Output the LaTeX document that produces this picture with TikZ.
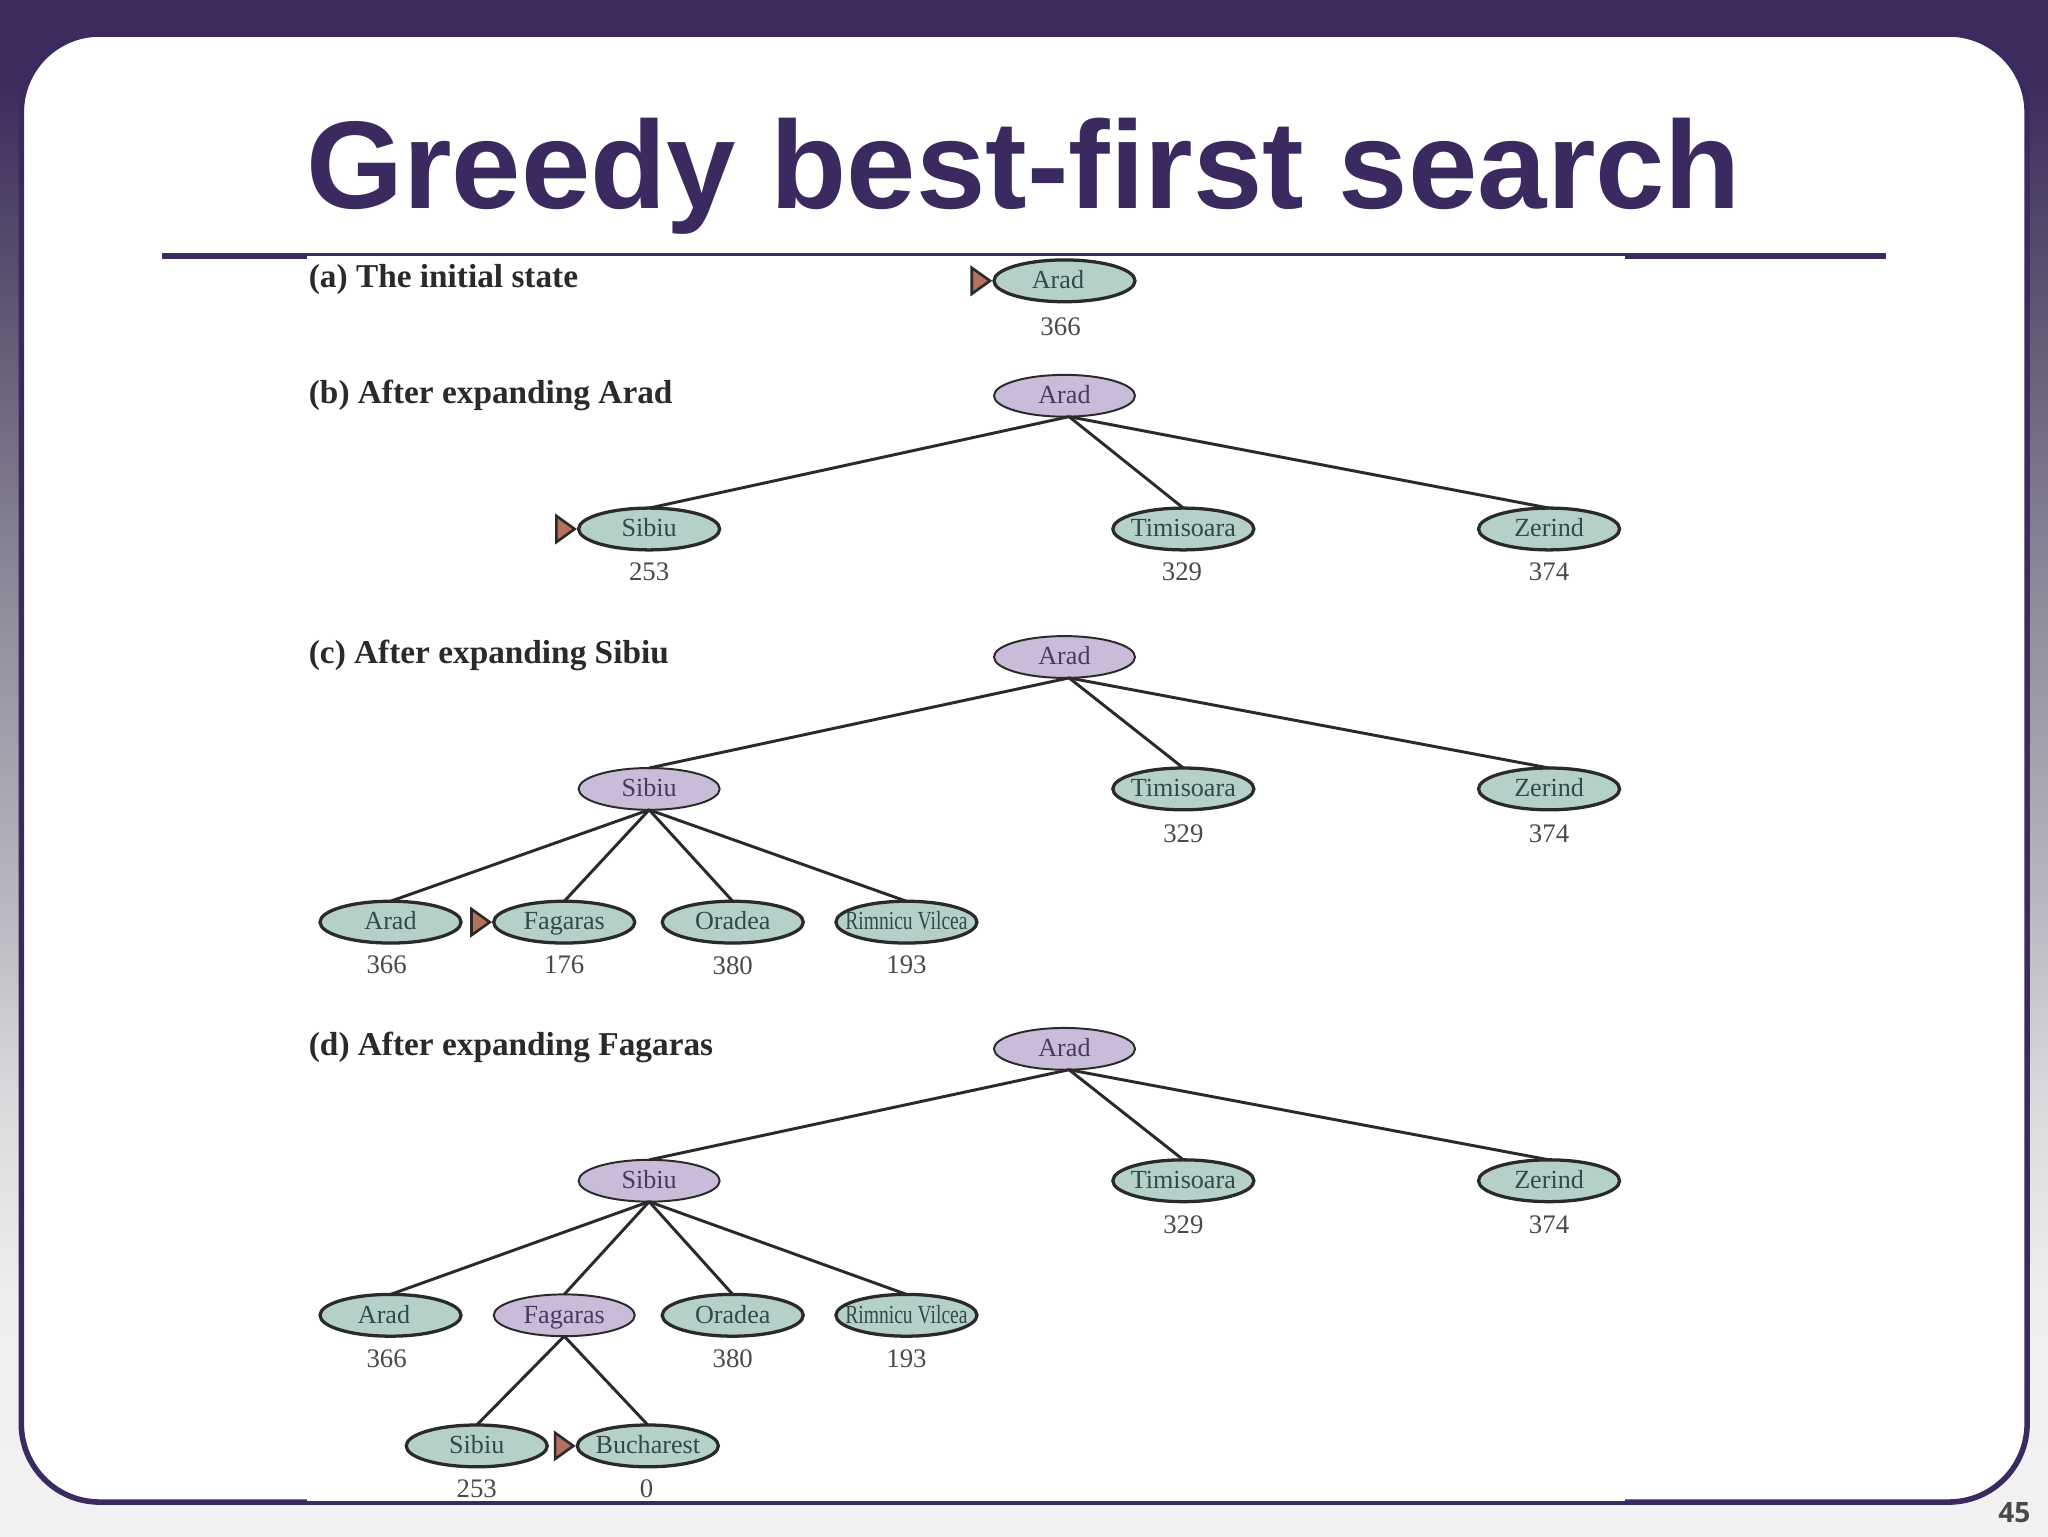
\documentclass[tikz,border=0pt]{standalone}
\usepackage{fontspec}
\usepackage{graphicx}
\usetikzlibrary{shapes.geometric}
\setmainfont{Liberation Serif}
\newfontfamily\titlefont{Liberation Sans}
\newfontfamily\numfont{Open Sans}
\definecolor{deep}{HTML}{3A2A60}
\definecolor{bgA}{HTML}{3C2C5E}
\definecolor{bgB}{HTML}{5E5470}
\definecolor{bgC}{HTML}{8F8B9B}
\definecolor{bgD}{HTML}{B9B6BF}
\definecolor{bgE}{HTML}{DADADD}
\definecolor{bgF}{HTML}{EEEDF0}
\definecolor{bgG}{HTML}{F2F2F3}
\definecolor{leafc}{HTML}{B5D0C8}
\definecolor{donec}{HTML}{C8BCD8}
\definecolor{ink}{HTML}{2A2A2A}
\definecolor{leaftext}{HTML}{34484A}
\definecolor{donetext}{HTML}{463A62}
\definecolor{markc}{HTML}{B5705F}
\pgfdeclareverticalshading{bgshade}{100bp}{
  color(0bp)=(bgG); color(25bp)=(bgG); color(32.7bp)=(bgF); color(39.2bp)=(bgE); color(45.7bp)=(bgD);
  color(55.5bp)=(bgC); color(65.2bp)=(bgB); color(72.4bp)=(bgA); color(75bp)=(bgA); color(100bp)=(bgA)}
\newcommand{\Tx}[2][0pt]{\makebox[0pt]{\hspace*{#1}#2}}
\tikzset{
  x=0.4pt,y=-0.4pt,
  ell/.style={ellipse,minimum width=43.2pt,minimum height=12.8pt,inner sep=0pt,outer sep=0pt,text height=5.4pt,text depth=0.6pt,font=\fontsize{8}{9}\selectfont},
  leafnode/.style={ell,draw=ink,line width=1pt,fill=leafc,text=leaftext},
  donenode/.style={ell,draw=ink,line width=0.6pt,fill=donec,text=donetext},
  valtext/.style={inner sep=0pt,font=\fontsize{8.2}{9}\selectfont,text=ink!85},
  captext/.style={anchor=base west,inner sep=0pt,font=\bfseries\fontsize{10.2}{12}\selectfont,text=ink},
  link/.style={draw=ink,line width=0.9pt},
  tri/.style={fill=markc,draw=ink,line width=0.8pt,line join=miter},
}
\newcommand{\Mark}[1]{\draw[tri] ([shift={(-17,-10)}]#1.west) -- ([shift={(-17,10)}]#1.west) -- ([shift={(-3,0)}]#1.west) -- cycle;}
\begin{document}
\begin{tikzpicture}
\useasboundingbox (0,0) rectangle (1568,1176);
\fill[shading=bgshade] (0,0) rectangle (1568,1176);
\draw[deep,line width=1.7pt,fill=white,rounded corners=24pt] (16.3,26) rectangle (1552,1150);
\fill[deep] (124,194) rectangle (1444,198.5);
\fill[white] (235,196) rectangle (1244,1149.2);
\node[anchor=base west,inner sep=0pt,text=deep,font=\titlefont\bfseries\fontsize{38.2}{40}\selectfont] (title) at (234,160) {Greedy best-first search};
\node[anchor=base east,inner sep=0pt,text=ink!85,font=\numfont\bfseries\fontsize{8.6}{10}\selectfont] (page) at (1555,1166) {45};
% captions
\node[captext] (capa) at (236,220) {(a) The initial state};
\node[captext] (capb) at (236,309) {(b) After expanding Arad};
\node[captext] (capc) at (236,508) {(c) After expanding Sibiu};
\node[captext] (capd) at (236,808) {(d) After expanding Fagaras};
% (a)
\node[leafnode] (a0) at (815,215) {\Tx[-4pt]{Arad}};
\node[valtext] (a0v) at (812,250) {366};
\Mark{a0}
% (b)
\node[donenode] (b0) at (815,303) {\Tx{Arad}};
\node[leafnode] (b1) at (497,405) {\Tx{Sibiu}};
\node[leafnode] (b2) at (906,405) {\Tx{Timisoara}};
\node[leafnode] (b3) at (1186,405) {\Tx{Zerind}};
\node[valtext] (b1v) at (497,438) {253};
\node[valtext] (b2v) at (905,438) {329};
\node[valtext] (b3v) at (1186,438) {374};
\draw[link] ([xshift=1.4pt]b0.south) -- (b1.north);
\draw[link] ([xshift=1.4pt]b0.south) -- (b2.north);
\draw[link] ([xshift=1.4pt]b0.south) -- (b3.north);
\Mark{b1}
% (c)
\node[donenode] (c0) at (815,503) {\Tx{Arad}};
\node[donenode] (c1) at (497,604) {\Tx{Sibiu}};
\node[leafnode] (c2) at (906,604) {\Tx{Timisoara}};
\node[leafnode] (c3) at (1186,604) {\Tx{Zerind}};
\node[valtext] (c2v) at (906,638) {329};
\node[valtext] (c3v) at (1186,638) {374};
\node[leafnode] (c4) at (299,706) {\Tx{Arad}};
\node[leafnode] (c5) at (432,706) {\Tx{Fagaras}};
\node[leafnode] (c6) at (561,706) {\Tx{Oradea}};
\node[leafnode] (c7) at (694,706) {\Tx{\scalebox{0.75}[1]{Rimnicu Vilcea}}};
\node[valtext] (c4v) at (296,739) {366};
\node[valtext] (c5v) at (432,739) {176};
\node[valtext] (c6v) at (561,739) {380};
\node[valtext] (c7v) at (694,739) {193};
\draw[link] ([xshift=1.4pt]c0.south) -- (c1.north);
\draw[link] ([xshift=1.4pt]c0.south) -- (c2.north);
\draw[link] ([xshift=1.4pt]c0.south) -- (c3.north);
\draw[link] (c1.south) -- (c4.north);
\draw[link] (c1.south) -- (c5.north);
\draw[link] (c1.south) -- (c6.north);
\draw[link] (c1.south) -- (c7.north);
\Mark{c5}
% (d)
\node[donenode] (d0) at (815,803) {\Tx{Arad}};
\node[donenode] (d1) at (497,904) {\Tx{Sibiu}};
\node[leafnode] (d2) at (906,904) {\Tx{Timisoara}};
\node[leafnode] (d3) at (1186,904) {\Tx{Zerind}};
\node[valtext] (d2v) at (906,938) {329};
\node[valtext] (d3v) at (1186,938) {374};
\node[leafnode] (d4) at (299,1007) {\Tx[-4pt]{Arad}};
\node[donenode] (d5) at (432,1007) {\Tx{Fagaras}};
\node[leafnode] (d6) at (561,1007) {\Tx{Oradea}};
\node[leafnode] (d7) at (694,1007) {\Tx{\scalebox{0.75}[1]{Rimnicu Vilcea}}};
\node[valtext] (d4v) at (296,1040) {366};
\node[valtext] (d6v) at (561,1040) {380};
\node[valtext] (d7v) at (694,1040) {193};
\node[leafnode] (d8) at (365,1107) {\Tx{Sibiu}};
\node[leafnode] (d9) at (496,1107) {\Tx{Bucharest}};
\node[valtext] (d8v) at (365,1140) {253};
\node[valtext] (d9v) at (495,1140) {0};
\draw[link] ([xshift=1.4pt]d0.south) -- (d1.north);
\draw[link] ([xshift=1.4pt]d0.south) -- (d2.north);
\draw[link] ([xshift=1.4pt]d0.south) -- (d3.north);
\draw[link] (d1.south) -- (d4.north);
\draw[link] (d1.south) -- (d5.north);
\draw[link] (d1.south) -- (d6.north);
\draw[link] (d1.south) -- (d7.north);
\draw[link] (d5.south) -- (d8.north);
\draw[link] (d5.south) -- (d9.north);
\Mark{d9}
\end{tikzpicture}
\end{document}
